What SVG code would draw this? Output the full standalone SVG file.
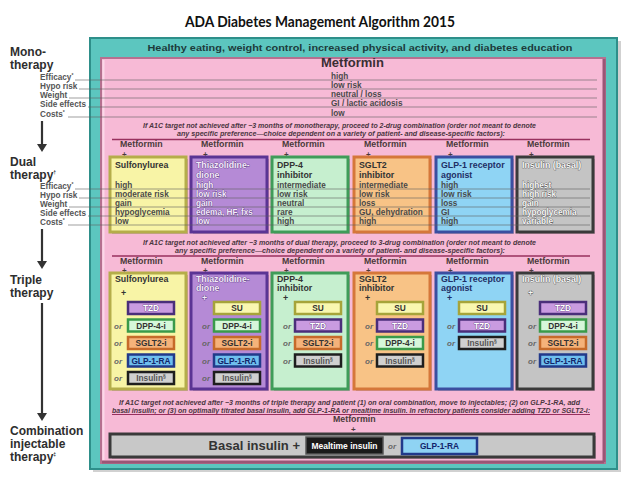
<svg xmlns="http://www.w3.org/2000/svg" width="638" height="479" viewBox="0 0 638 479">
<defs>
<style>
text{font-family:"Liberation Sans",Arial,sans-serif;}
.title{font-family:Lato,"Liberation Sans",sans-serif;font-size:15px;font-weight:bold;fill:#111;}
.stage{font-size:12px;font-weight:bold;fill:#2e2e2e;}
.lbl{font-size:8.2px;font-weight:bold;fill:#555;}
.val{font-size:8.2px;font-weight:bold;fill:#4a4a4a;}
.vl{font-size:8.2px;font-weight:bold;fill:#f3eafa;stroke:#4a2a70;stroke-width:0.6;paint-order:stroke;}
.vg{font-size:8.2px;font-weight:bold;fill:#f6f6f6;stroke:#3a3a3a;stroke-width:0.6;paint-order:stroke;}
.row{stroke:#5e5e5e;stroke-width:0.6;}
.msg{font-size:6.4px;font-weight:bold;font-style:italic;fill:#4a3540;}
.met{font-size:8.8px;font-weight:bold;fill:#4a3a3a;}
.plus{font-size:8px;font-weight:bold;fill:#4a3a3a;}
.hdr{font-size:8.8px;font-weight:bold;fill:#333;}
.hl{font-size:8.8px;font-weight:bold;fill:#f3eafa;stroke:#4a2a70;stroke-width:0.6;paint-order:stroke;}
.hg{font-size:8.8px;font-weight:bold;fill:#f6f6f6;stroke:#3a3a3a;stroke-width:0.6;paint-order:stroke;}
.hb{font-size:8.8px;font-weight:bold;fill:#1f2f66;}
.or{font-size:8px;font-weight:bold;font-style:italic;fill:#666;}
.ib{font-size:8.3px;font-weight:bold;fill:#333;text-anchor:middle;}
.ibw{font-size:8.3px;font-weight:bold;fill:#fff;stroke:#3a2260;stroke-width:0.6;paint-order:stroke;text-anchor:middle;}
.ibb{font-size:8.3px;font-weight:bold;fill:#12246a;text-anchor:middle;}
.ibg{font-size:8.3px;font-weight:bold;fill:#555;text-anchor:middle;}
.sup{font-size:5px;}
.c-su{fill:#f8f4a6;stroke:#b5ad4a;stroke-width:3;}
.c-tzd{fill:#b58ad6;stroke:#5b3494;stroke-width:3;}
.c-dpp{fill:#c6efcf;stroke:#3f9c59;stroke-width:3;}
.c-sglt{fill:#f8c386;stroke:#d5773a;stroke-width:3;}
.c-glp{fill:#8fd4f4;stroke:#3b4ea0;stroke-width:3;}
.c-ins{fill:#c4c4c4;stroke:#3a3a3a;stroke-width:3;}
.b-su{fill:#f9f7b0;stroke:#a6a43a;stroke-width:2.5;}
.b-tzd{fill:#c99be0;stroke:#4a2e7a;stroke-width:2.5;}
.b-dpp{fill:#d6f7da;stroke:#3a9a4a;stroke-width:2.5;}
.b-sglt{fill:#f5b27a;stroke:#c66a2a;stroke-width:2.5;}
.b-glp{fill:#6fbfee;stroke:#223a8a;stroke-width:2.5;}
.b-ins{fill:#d0d0d0;stroke:#1e1e1e;stroke-width:2.5;}
.shadow{fill:#000;opacity:0.18;}
.arrow{stroke:#333;stroke-width:2.2;fill:none;}
</style>
<marker id="ah" markerWidth="8" markerHeight="10" refX="1" refY="5" orient="auto" markerUnits="userSpaceOnUse">
<path d="M0,0 L8,5 L0,10 z" fill="#333"/>
</marker>
</defs>

<rect width="638" height="479" fill="#fff"/>
<text class="title" x="320" y="27" text-anchor="middle" textLength="270" lengthAdjust="spacingAndGlyphs">ADA Diabetes Management Algorithm 2015</text>

<g id="frame">
<rect x="93" y="41" width="528" height="431" class="shadow"/>
<rect x="90" y="38" width="527" height="431" fill="#5cc6bf" stroke="#2e8f8a" stroke-width="2"/>
<text x="360" y="51" text-anchor="middle" font-size="9.5" font-weight="bold" fill="#1d3b3b" textLength="425" lengthAdjust="spacingAndGlyphs">Healthy eating, weight control, increased physical activity, and diabetes education</text>
<rect x="101" y="58" width="504" height="405" fill="#f7bad6" stroke="#b5708f" stroke-width="2"/>
<line x1="604" y1="59" x2="604" y2="462" stroke="#9a5676" stroke-width="3"/>
<line x1="102" y1="462" x2="604" y2="462" stroke="#9a5676" stroke-width="3"/>
<line x1="103.5" y1="60" x2="103.5" y2="460" stroke="#fbd8e8" stroke-width="2"/>
</g>

<g id="stages">
<text class="stage" x="10" y="56">Mono-</text>
<text class="stage" x="10" y="69">therapy</text>
<text class="stage" x="10" y="166">Dual</text>
<text class="stage" x="10" y="179">therapy<tspan class="sup" dy="-5">†</tspan></text>
<text class="stage" x="10" y="284">Triple</text>
<text class="stage" x="10" y="297">therapy</text>
<text class="stage" x="10" y="435">Combination</text>
<text class="stage" x="10" y="448">injectable</text>
<text class="stage" x="10" y="461">therapy<tspan class="sup" dy="-5">‡</tspan></text>
</g>

<g id="connectors">
<line class="arrow" x1="42" y1="121" x2="42" y2="145" marker-end="url(#ah)"/>
<line class="arrow" x1="42" y1="229" x2="42" y2="262" marker-end="url(#ah)"/>
<line class="arrow" x1="42" y1="303" x2="42" y2="414" marker-end="url(#ah)"/>
</g>

<g id="mono-rows">
<line class="row" x1="75" y1="80" x2="597" y2="80"/>
<line class="row" x1="79" y1="89" x2="597" y2="89"/>
<line class="row" x1="69" y1="98" x2="597" y2="98"/>
<line class="row" x1="88" y1="107" x2="597" y2="107"/>
<line class="row" x1="68" y1="117" x2="597" y2="117"/>
<text class="lbl" x="40" y="80">Efficacy<tspan class="sup" dy="-3">*</tspan></text>
<text class="lbl" x="40" y="89">Hypo risk</text>
<text class="lbl" x="40" y="98">Weight</text>
<text class="lbl" x="40" y="107">Side effects</text>
<text class="lbl" x="40" y="117">Costs<tspan class="sup" dy="-3">*</tspan></text>
</g>

<g id="mono-metformin">
<text x="321" y="67" font-size="13" font-weight="bold" fill="#3a2e34">Metformin</text>
<text class="val" x="331" y="79">high</text>
<text class="val" x="331" y="88">low risk</text>
<text class="val" x="331" y="97">neutral / loss</text>
<text class="val" x="331" y="106">GI / lactic acidosis</text>
<text class="val" x="331" y="116">low</text>
</g>

<g id="msg-dual">
<text class="msg" x="143" y="128" textLength="393" lengthAdjust="spacingAndGlyphs">If A1C target not achieved after ~3 months of monotherapy, proceed to 2-drug combination (order not meant to denote</text>
<text class="msg" x="177" y="135.5" textLength="328" lengthAdjust="spacingAndGlyphs">any specific preference—choice dependent on a variety of patient- and disease-specific factors):</text>
<line x1="112" y1="139.5" x2="590" y2="139.5" stroke="#98305e" stroke-width="1.5"/>
</g>

<g id="dual-metformin">
<text class="met" x="120" y="147">Metformin</text><text class="plus" x="122" y="156.5">+</text>
<text class="met" x="201" y="147">Metformin</text><text class="plus" x="203" y="156.5">+</text>
<text class="met" x="282" y="147">Metformin</text><text class="plus" x="284" y="156.5">+</text>
<text class="met" x="364" y="147">Metformin</text><text class="plus" x="366" y="156.5">+</text>
<text class="met" x="446" y="147">Metformin</text><text class="plus" x="448" y="156.5">+</text>
<text class="met" x="527" y="147">Metformin</text><text class="plus" x="529" y="156.5">+</text>
</g>

<g id="dual-su">
<rect x="112" y="159" width="76" height="75" class="shadow"/>
<rect x="110" y="157" width="76" height="75" class="c-su"/>
<text class="hdr" x="115" y="168">Sulfonylurea</text>
</g>
<g id="dual-tzd">
<rect x="193" y="159" width="76" height="75" class="shadow"/>
<rect x="191" y="157" width="76" height="75" class="c-tzd"/>
<text class="hl" x="196" y="168">Thiazolidine-</text>
<text class="hl" x="196" y="177.5">dione</text>
</g>
<g id="dual-dpp4">
<rect x="274" y="159" width="76" height="75" class="shadow"/>
<rect x="272" y="157" width="76" height="75" class="c-dpp"/>
<text class="hdr" x="277" y="168">DPP-4</text>
<text class="hdr" x="277" y="177.5">inhibitor</text>
</g>
<g id="dual-sglt2">
<rect x="356" y="159" width="76" height="75" class="shadow"/>
<rect x="354" y="157" width="76" height="75" class="c-sglt"/>
<text class="hdr" x="359" y="168">SGLT2</text>
<text class="hdr" x="359" y="177.5">inhibitor</text>
</g>
<g id="dual-glp1">
<rect x="438" y="159" width="76" height="75" class="shadow"/>
<rect x="436" y="157" width="76" height="75" class="c-glp"/>
<text class="hb" x="441" y="168">GLP-1 receptor</text>
<text class="hb" x="441" y="177.5">agonist</text>
</g>
<g id="dual-insulin">
<rect x="519" y="159" width="76" height="75" class="shadow"/>
<rect x="517" y="157" width="76" height="75" class="c-ins"/>
<text class="hg" x="522" y="168">Insulin (basal)</text>
</g>

<g id="dual-rows">
<line class="row" x1="75" y1="189" x2="590" y2="189"/>
<line class="row" x1="79" y1="198" x2="590" y2="198"/>
<line class="row" x1="69" y1="207" x2="590" y2="207"/>
<line class="row" x1="88" y1="216" x2="590" y2="216"/>
<line class="row" x1="68" y1="225" x2="590" y2="225"/>
<text class="lbl" x="40" y="189">Efficacy<tspan class="sup" dy="-3">*</tspan></text>
<text class="lbl" x="40" y="198">Hypo risk</text>
<text class="lbl" x="40" y="207">Weight</text>
<text class="lbl" x="40" y="216">Side effects</text>
<text class="lbl" x="40" y="225">Costs<tspan class="sup" dy="-3">*</tspan></text>
<text class="val" x="115" y="188">high</text>
<text class="val" x="115" y="197">moderate risk</text>
<text class="val" x="115" y="206">gain</text>
<text class="val" x="115" y="215">hypoglycemia</text>
<text class="val" x="115" y="224">low</text>
<text class="vl" x="196" y="188">high</text>
<text class="vl" x="196" y="197">low risk</text>
<text class="vl" x="196" y="206">gain</text>
<text class="vl" x="196" y="215">edema, HF, fxs</text>
<text class="vl" x="196" y="224">low</text>
<text class="val" x="277" y="188">intermediate</text>
<text class="val" x="277" y="197">low risk</text>
<text class="val" x="277" y="206">neutral</text>
<text class="val" x="277" y="215">rare</text>
<text class="val" x="277" y="224">high</text>
<text class="val" x="359" y="188">intermediate</text>
<text class="val" x="359" y="197">low risk</text>
<text class="val" x="359" y="206">loss</text>
<text class="val" x="359" y="215">GU, dehydration</text>
<text class="val" x="359" y="224">high</text>
<text class="val" x="441" y="188">high</text>
<text class="val" x="441" y="197">low risk</text>
<text class="val" x="441" y="206">loss</text>
<text class="val" x="441" y="215">GI</text>
<text class="val" x="441" y="224">high</text>
<text class="vg" x="522" y="188">highest</text>
<text class="vg" x="522" y="197">high risk</text>
<text class="vg" x="522" y="206">gain</text>
<text class="vg" x="522" y="215">hypoglycemia</text>
<text class="vg" x="522" y="224">variable</text>
</g>

<g id="msg-triple">
<text class="msg" x="143" y="245" textLength="393" lengthAdjust="spacingAndGlyphs">If A1C target not achieved after ~3 months of dual therapy, proceed to 3-drug combination (order not meant to denote</text>
<text class="msg" x="175" y="252.5" textLength="330" lengthAdjust="spacingAndGlyphs">any specific preference—choice dependent on a variety of patient- and disease-specific factors):</text>
<line x1="112" y1="256" x2="590" y2="256" stroke="#98305e" stroke-width="1.5"/>
</g>

<g id="triple-metformin">
<text class="met" x="120" y="263.5">Metformin</text><text class="plus" x="122" y="272.5">+</text>
<text class="met" x="201" y="263.5">Metformin</text><text class="plus" x="203" y="272.5">+</text>
<text class="met" x="282" y="263.5">Metformin</text><text class="plus" x="284" y="272.5">+</text>
<text class="met" x="364" y="263.5">Metformin</text><text class="plus" x="366" y="272.5">+</text>
<text class="met" x="446" y="263.5">Metformin</text><text class="plus" x="448" y="272.5">+</text>
<text class="met" x="527" y="263.5">Metformin</text><text class="plus" x="529" y="272.5">+</text>
</g>

<g id="triple-su">
<rect x="112" y="275" width="76" height="116" class="shadow"/>
<rect x="110" y="273" width="76" height="116" class="c-su"/>
<text class="hdr" x="115" y="282">Sulfonylurea</text>
<text class="hdr" x="121" y="296">+</text>
<rect x="128" y="302" width="46" height="12" class="b-tzd"/><text class="ibw" x="151" y="311">TZD</text>
<text class="or" x="114" y="328.5">or</text><rect x="128" y="319.5" width="46" height="12" class="b-dpp"/><text class="ib" x="151" y="328.5">DPP-4-i</text>
<text class="or" x="114" y="346">or</text><rect x="128" y="337" width="46" height="12" class="b-sglt"/><text class="ib" x="151" y="346">SGLT2-i</text>
<text class="or" x="114" y="363.5">or</text><rect x="128" y="354.5" width="46" height="12" class="b-glp"/><text class="ibb" x="151" y="363.5">GLP-1-RA</text>
<text class="or" x="114" y="381">or</text><rect x="128" y="372" width="46" height="12" class="b-ins"/><text class="ibg" x="151" y="381">Insulin<tspan class="sup" dy="-3">§</tspan></text>
</g>

<g id="triple-tzd">
<rect x="193" y="275" width="76" height="116" class="shadow"/>
<rect x="191" y="273" width="76" height="116" class="c-tzd"/>
<text class="hl" x="196" y="282">Thiazolidine-</text>
<text class="hl" x="196" y="290.5">dione</text>
<text class="hl" x="202" y="300.5">+</text>
<rect x="214" y="302" width="46" height="12" class="b-su"/><text class="ib" x="237" y="311">SU</text>
<text class="or" x="202" y="328.5">or</text><rect x="214" y="319.5" width="46" height="12" class="b-dpp"/><text class="ib" x="237" y="328.5">DPP-4-i</text>
<text class="or" x="202" y="346">or</text><rect x="214" y="337" width="46" height="12" class="b-sglt"/><text class="ib" x="237" y="346">SGLT2-i</text>
<text class="or" x="202" y="363.5">or</text><rect x="214" y="354.5" width="46" height="12" class="b-glp"/><text class="ibb" x="237" y="363.5">GLP-1-RA</text>
<text class="or" x="202" y="381">or</text><rect x="214" y="372" width="46" height="12" class="b-ins"/><text class="ibg" x="237" y="381">Insulin<tspan class="sup" dy="-3">§</tspan></text>
</g>

<g id="triple-dpp4">
<rect x="274" y="275" width="76" height="116" class="shadow"/>
<rect x="272" y="273" width="76" height="116" class="c-dpp"/>
<text class="hdr" x="277" y="282">DPP-4</text>
<text class="hdr" x="277" y="290.5">inhibitor</text>
<text class="hdr" x="283" y="300.5">+</text>
<rect x="295" y="302" width="46" height="12" class="b-su"/><text class="ib" x="318" y="311">SU</text>
<text class="or" x="283" y="328.5">or</text><rect x="295" y="319.5" width="46" height="12" class="b-tzd"/><text class="ibw" x="318" y="328.5">TZD</text>
<text class="or" x="283" y="346">or</text><rect x="295" y="337" width="46" height="12" class="b-sglt"/><text class="ib" x="318" y="346">SGLT2-i</text>
<text class="or" x="283" y="363.5">or</text><rect x="295" y="354.5" width="46" height="12" class="b-ins"/><text class="ibg" x="318" y="363.5">Insulin<tspan class="sup" dy="-3">§</tspan></text>
</g>

<g id="triple-sglt2">
<rect x="356" y="275" width="76" height="116" class="shadow"/>
<rect x="354" y="273" width="76" height="116" class="c-sglt"/>
<text class="hdr" x="359" y="282">SGLT2</text>
<text class="hdr" x="359" y="290.5">inhibitor</text>
<text class="hdr" x="365" y="300.5">+</text>
<rect x="377" y="302" width="46" height="12" class="b-su"/><text class="ib" x="400" y="311">SU</text>
<text class="or" x="365" y="328.5">or</text><rect x="377" y="319.5" width="46" height="12" class="b-tzd"/><text class="ibw" x="400" y="328.5">TZD</text>
<text class="or" x="365" y="346">or</text><rect x="377" y="337" width="46" height="12" class="b-dpp"/><text class="ib" x="400" y="346">DPP-4-i</text>
<text class="or" x="365" y="363.5">or</text><rect x="377" y="354.5" width="46" height="12" class="b-ins"/><text class="ibg" x="400" y="363.5">Insulin<tspan class="sup" dy="-3">§</tspan></text>
</g>

<g id="triple-glp1">
<rect x="438" y="275" width="76" height="116" class="shadow"/>
<rect x="436" y="273" width="76" height="116" class="c-glp"/>
<text class="hb" x="441" y="282">GLP-1 receptor</text>
<text class="hb" x="441" y="290.5">agonist</text>
<text class="hb" x="447" y="300.5">+</text>
<rect x="459" y="302" width="46" height="12" class="b-su"/><text class="ib" x="482" y="311">SU</text>
<text class="or" x="447" y="328.5">or</text><rect x="459" y="319.5" width="46" height="12" class="b-tzd"/><text class="ibw" x="482" y="328.5">TZD</text>
<text class="or" x="447" y="346">or</text><rect x="459" y="337" width="46" height="12" class="b-ins"/><text class="ibg" x="482" y="346">Insulin<tspan class="sup" dy="-3">§</tspan></text>
</g>

<g id="triple-insulin">
<rect x="519" y="275" width="76" height="116" class="shadow"/>
<rect x="517" y="273" width="76" height="116" class="c-ins"/>
<text class="hg" x="522" y="282">Insulin (basal)</text>
<text class="hg" x="528" y="296">+</text>
<rect x="540" y="302" width="46" height="12" class="b-tzd"/><text class="ibw" x="563" y="311">TZD</text>
<text class="or" x="528" y="328.5">or</text><rect x="540" y="319.5" width="46" height="12" class="b-dpp"/><text class="ib" x="563" y="328.5">DPP-4-i</text>
<text class="or" x="528" y="346">or</text><rect x="540" y="337" width="46" height="12" class="b-sglt"/><text class="ib" x="563" y="346">SGLT2-i</text>
<text class="or" x="528" y="363.5">or</text><rect x="540" y="354.5" width="46" height="12" class="b-glp"/><text class="ibb" x="563" y="363.5">GLP-1-RA</text>
</g>

<g id="msg-injectable">
<text class="msg" x="119" y="405" textLength="461" lengthAdjust="spacingAndGlyphs">If A1C target not achieved after ~3 months of triple therapy and patient (1) on oral combination, move to injectables; (2) on GLP-1-RA, add</text>
<text class="msg" x="112" y="412.5" textLength="478" lengthAdjust="spacingAndGlyphs">basal insulin; or (3) on optimally titrated basal insulin, add GLP-1-RA or mealtime insulin. In refractory patients consider adding TZD or SGLT2-i:</text>
<line x1="112" y1="414.5" x2="590" y2="414.5" stroke="#98305e" stroke-width="1"/>
<text class="met" x="333" y="422">Metformin</text>
<text class="plus" x="351" y="431.5">+</text>
</g>

<g id="combination">
<rect x="112" y="436" width="484" height="23" class="shadow"/>
<rect x="110" y="434" width="484" height="23" fill="#c8c8c8" stroke="#3a3a3a" stroke-width="3"/>
<text x="300" y="450" text-anchor="end" font-size="13" font-weight="bold" fill="#333">Basal insulin +</text>
<rect x="306" y="437" width="77" height="17" fill="#1a1a1a" stroke="#555" stroke-width="1.5"/>
<text x="344.5" y="448.5" text-anchor="middle" font-size="8.5" font-weight="bold" fill="#fff">Mealtime insulin</text>
<text class="or" x="388" y="449">or</text>
<rect x="402" y="438" width="75" height="16" style="fill:#8fd3f3;stroke:#223a8a;stroke-width:2.5"/>
<text class="ibb" x="439.5" y="449">GLP-1-RA</text>
</g>
</svg>
